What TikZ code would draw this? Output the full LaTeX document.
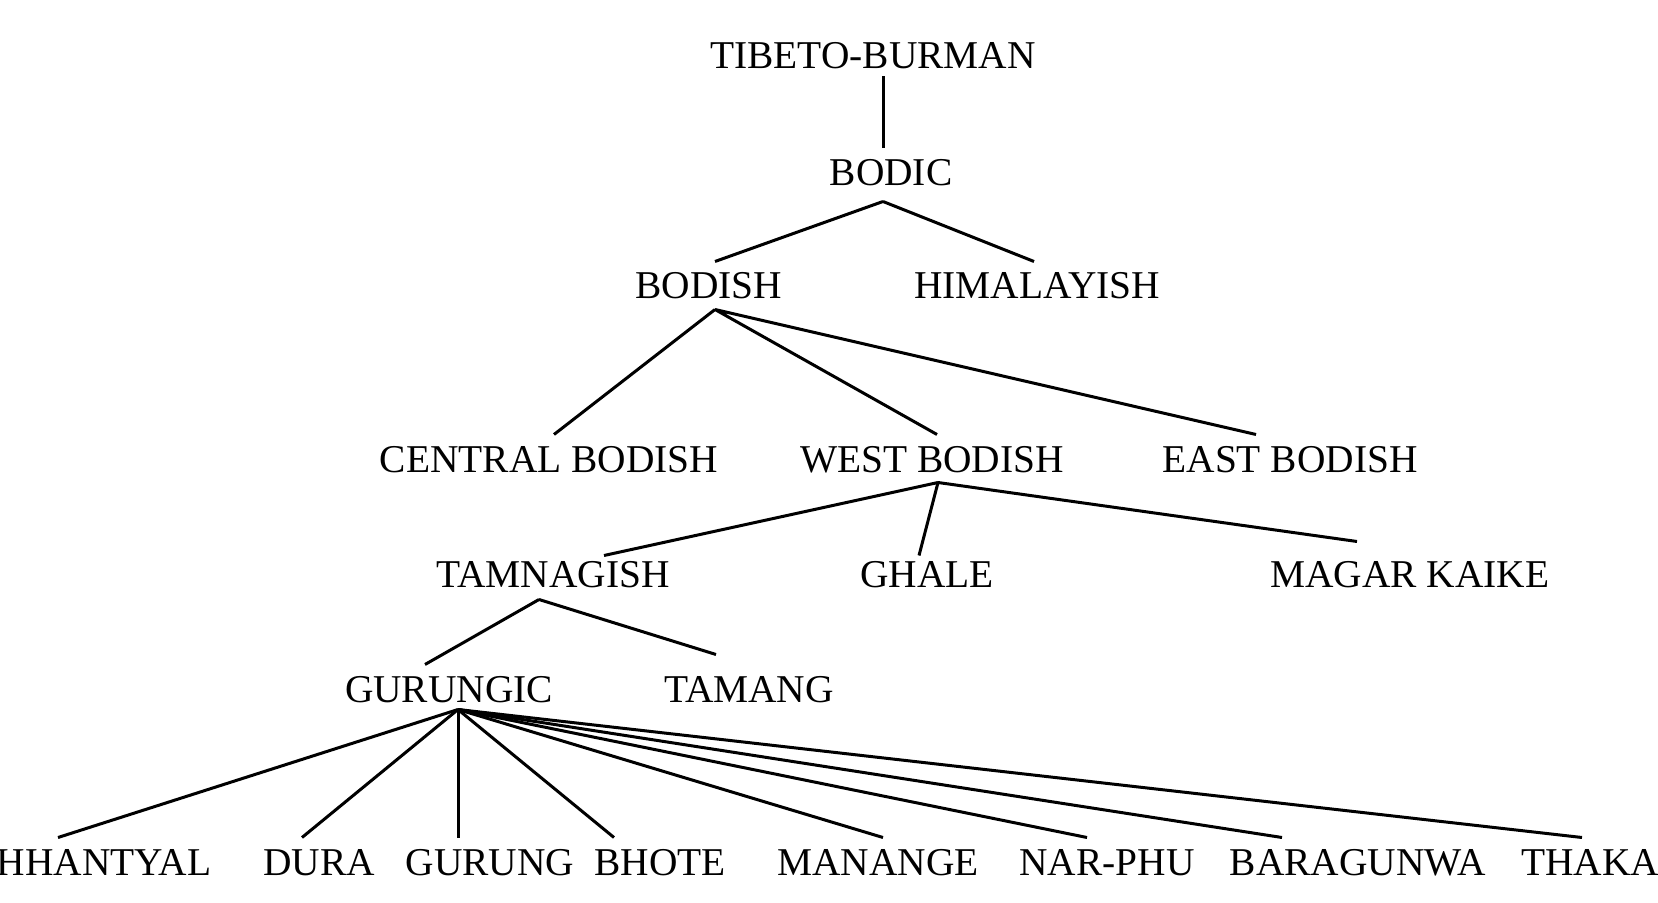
\documentclass[tikz,border=0pt]{standalone}
\usepackage{fontspec}
\setmainfont{Liberation Serif}
\usepackage{tikz}
\tikzstyle{lang}=[inner sep=0pt, anchor=base, text height=18pt, text depth=3pt, font=\fontsize{19.7}{23}\selectfont]

\begin{document}
\begin{tikzpicture}[x=0.5pt, y=-0.5pt, line width=1.5pt]
    \useasboundingbox (0,0) rectangle (1658,903);
    % levels of the tree
    \node[lang] (tb)         at (873,  69)  {TIBETO-BURMAN};
    \node[lang] (bodic)      at (891,  186) {BODIC};
    \node[lang] (bodish)     at (709,  299) {BODISH};
    \node[lang] (himalayish) at (1037, 299) {HIMALAYISH};
    \node[lang] (central)    at (549,  472) {CENTRAL BODISH};
    \node[lang] (west)       at (932,  472) {WEST BODISH};
    \node[lang] (east)       at (1290, 472) {EAST BODISH};
    \node[lang] (tamnagish)  at (553,  587) {TAMNAGISH};
    \node[lang] (ghale)      at (927,  587) {GHALE};
    \node[lang] (magar)      at (1410, 587) {MAGAR KAIKE};
    \node[lang] (gurungic)   at (449,  702) {GURUNGIC};
    \node[lang] (tamang)     at (749,  702) {TAMANG};
    \node[lang] (hhantyal)   at (104,  875) {HHANTYAL};
    \node[lang] (dura)       at (319,  875) {DURA};
    \node[lang] (gurung)     at (490,  875) {GURUNG};
    \node[lang] (bhote)      at (660,  875) {BHOTE};
    \node[lang] (manange)    at (878,  875) {MANANGE};
    \node[lang] (narphu)     at (1107, 875) {NAR-PHU};
    \node[lang] (baragunwa)  at (1358, 875) {BARAGUNWA};
    \node[lang] (thaka)      at (1590, 875) {THAKA};
    % branches
    \draw ([xshift=5pt]tb.south) to ([xshift=-4pt]bodic.north);
    \draw ([xshift=-4pt, yshift=-4pt]bodic.south) to ([xshift=3pt]bodish.north)
          ([xshift=-4pt, yshift=-4pt]bodic.south) to ([xshift=-1.5pt]himalayish.north);
    \draw ([xshift=3pt, yshift=-1.5pt]bodish.south) to ([xshift=2.5pt]central.north)
          ([xshift=3pt, yshift=-1.5pt]bodish.south) to ([xshift=2.5pt]west.north)
          ([xshift=3pt, yshift=-1.5pt]bodish.south) to ([xshift=-17pt]east.north);
    \draw ([xshift=3pt, yshift=-1.5pt]west.south) to ([xshift=25.5pt, yshift=-3pt]tamnagish.north)
          ([xshift=3pt, yshift=-1.5pt]west.south) to ([xshift=-4pt, yshift=-3pt]ghale.north)
          ([xshift=3pt, yshift=-1.5pt]west.south) to ([xshift=-26.5pt, yshift=4pt]magar.north);
    \draw ([xshift=-7pt, yshift=-2.5pt]tamnagish.south) to ([xshift=-12pt]gurungic.north)
          ([xshift=-7pt, yshift=-2.5pt]tamnagish.south) to ([xshift=-16.5pt, yshift=5pt]tamang.north);
    \foreach \n/\s in {hhantyal/-23pt, dura/-8.5pt, gurung/-16pt, bhote/-23pt,
                       manange/2.5pt, narphu/-10pt, baragunwa/-38pt, thaka/-4pt}
        \draw ([xshift=4.5pt]gurungic.south) to ([xshift=\s]\n.north);
\end{tikzpicture}
\end{document}
